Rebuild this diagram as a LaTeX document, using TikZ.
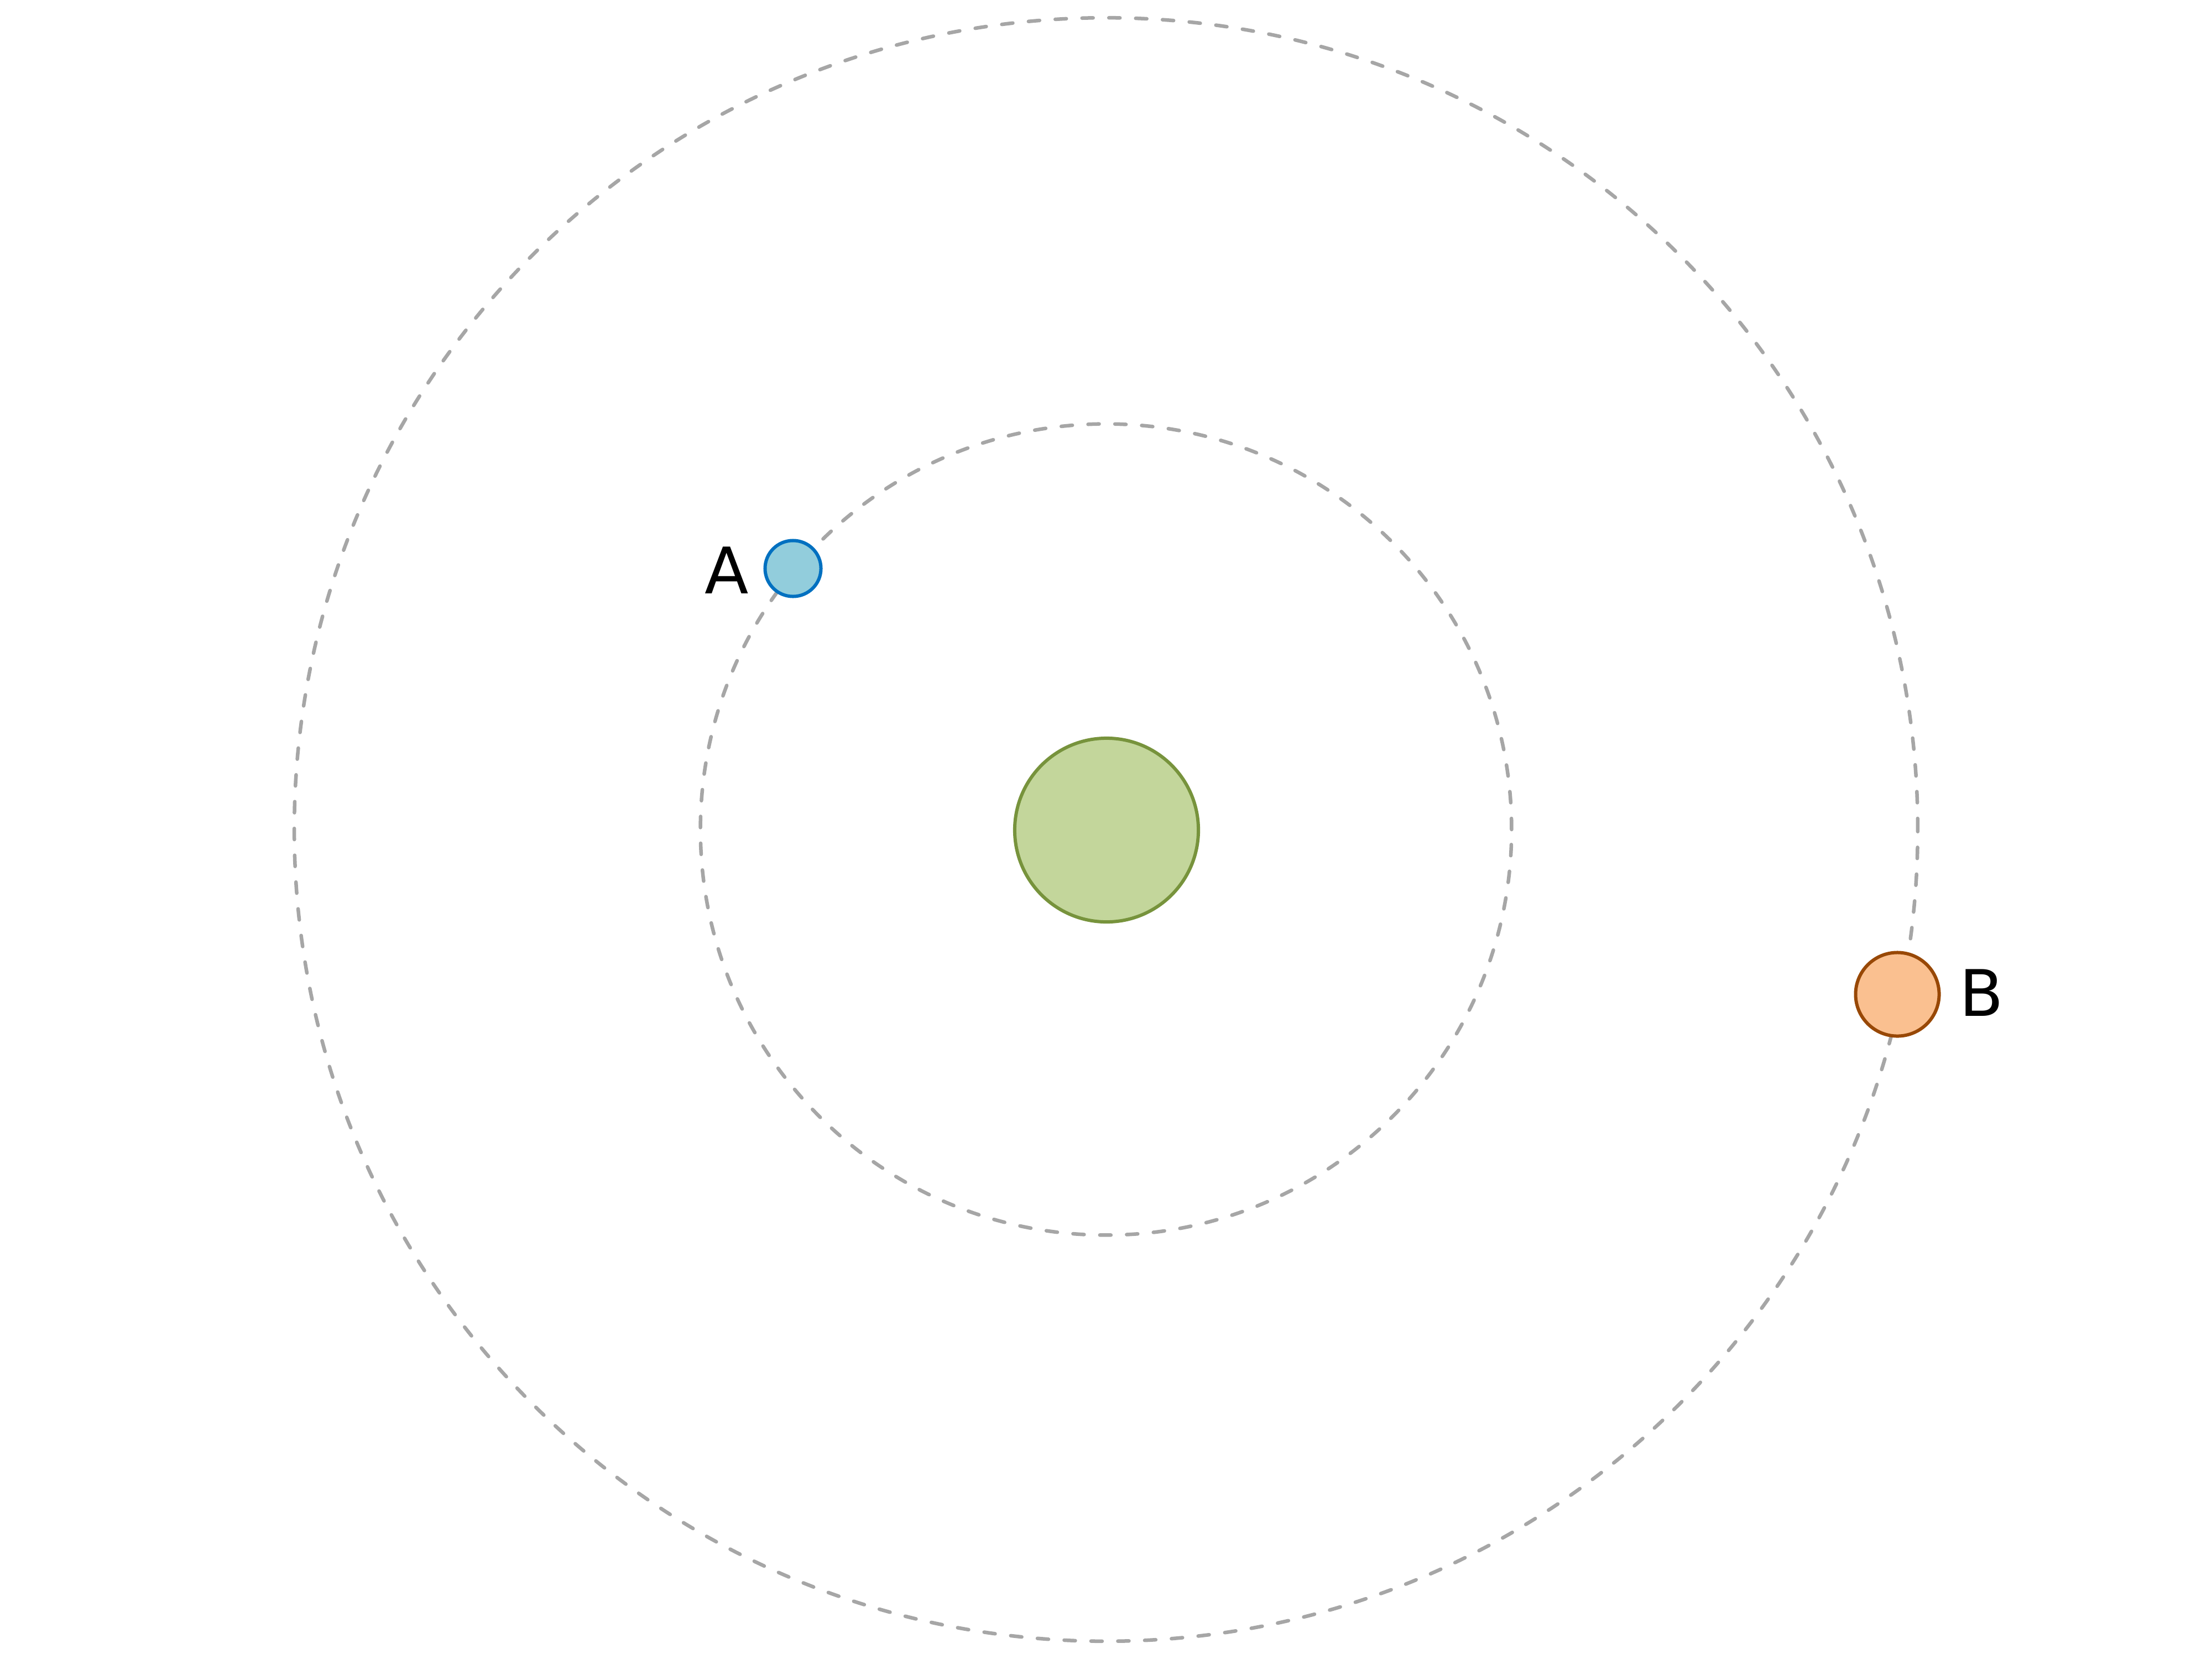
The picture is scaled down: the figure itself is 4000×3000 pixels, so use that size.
\documentclass[tikz,border=0pt]{standalone}
\usepackage{fontspec}
\setmainfont{DejaVu Sans}
\definecolor{orbitgray}{HTML}{A6A6A6}
\definecolor{sunfill}{HTML}{C3D69B}
\definecolor{sunline}{HTML}{77933C}
\definecolor{afill}{HTML}{92CDDC}
\definecolor{aline}{HTML}{0070C0}
\definecolor{bfill}{HTML}{FAC090}
\definecolor{bline}{HTML}{984806}
\tikzset{
  orbit/.style={circle, draw=orbitgray, line width=0.65mm, line cap=round,
    dash pattern=on 2.0mm off 2.85mm, inner sep=0pt, minimum size=#1},
  body/.style={circle, line width=0.6mm, inner sep=0pt},
  lab/.style={anchor=base, inner sep=0pt, font=\fontsize{33}{40}\selectfont}
}
\begin{document}
\begin{tikzpicture}[x=0.01cm,y=-0.01cm]
\useasboundingbox[fill=white] (0,0) rectangle (4000,3000);
\node[orbit=29.34cm] (outer) at (2000,1500) {};
\node[orbit=14.66cm] (inner) at (2000,1500) {};
\node[body, fill=sunfill, draw=sunline, minimum size=3.32cm] (sun) at (2001,1501) {};
\node[body, fill=afill, draw=aline, minimum size=1.01cm] (A) at (1434,1028) {};
\node[body, fill=bfill, draw=bline, minimum size=1.51cm] (B) at (3431,1798) {};
\node[lab] (labA) at (1314,1073) {A};
\node[lab] (labB) at (3583,1837) {B};
\end{tikzpicture}
\end{document}
